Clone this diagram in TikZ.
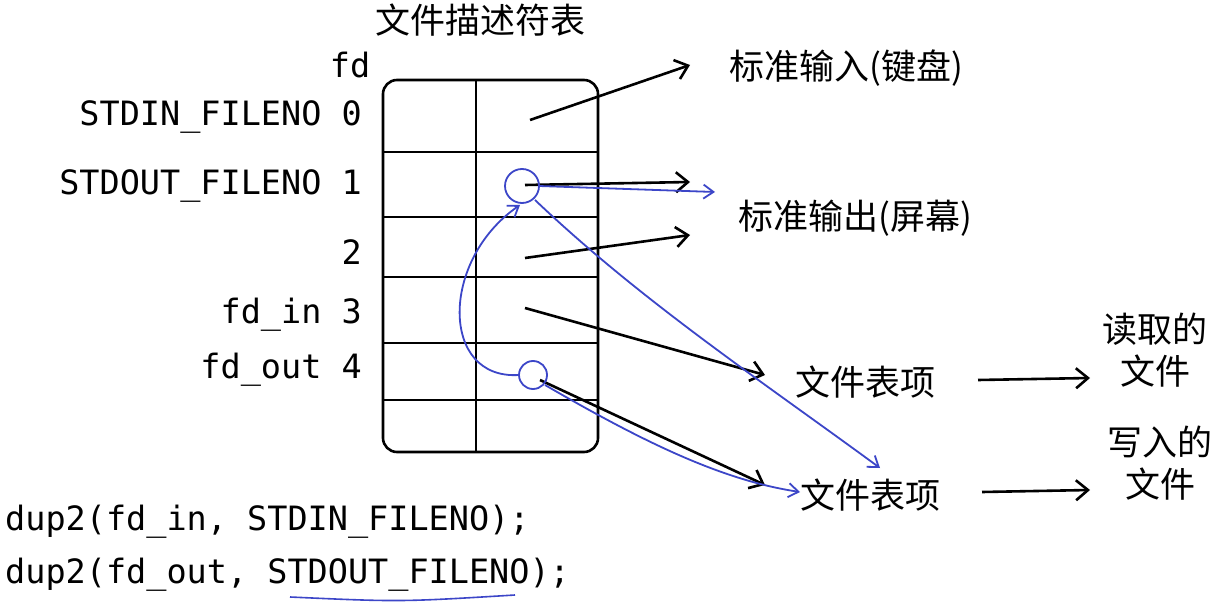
\documentclass[tikz,border=0pt]{standalone}
\usepackage{fontspec}
\setmainfont{DejaVu Sans}
\setmonofont{DejaVu Sans Mono}
\newfontfamily\cjk{Noto Sans CJK SC}
\usetikzlibrary{arrows.meta}
\definecolor{pen}{RGB}{60,70,200}
\begin{document}
\begin{tikzpicture}[x=1pt,y=-1pt,
  lbl/.style={font=\ttfamily\fontsize{33.5}{36}\selectfont, inner sep=0},
  zh/.style={font=\cjk\fontsize{35}{42}\selectfont, inner sep=0, align=center},
  blk/.style={line width=2.6pt, -{Straight Barb[length=12pt,width=20pt]}},
  blu/.style={line width=1.8pt, pen, -{Straight Barb[length=10pt,width=14pt]}},
  grid/.style={line width=2.6pt}]
\useasboundingbox[fill=white] (0,0) rectangle (1225,609);
% table
\draw[grid, rounded corners=14pt] (383,80) rectangle (598,452);
\draw[grid] (476,80) -- (476,452);
\foreach \y in {152,217,277,343,400} \draw[grid] (383,\y) -- (598,\y);
\node[zh] (title) at (480,20) {文件描述符表};
\node[lbl] (fd) at (350,65) {fd};
\node[lbl,anchor=east] (r0) at (362,117) {STDIN\_FILENO 0};
\node[lbl,anchor=east] (r1) at (362,186) {STDOUT\_FILENO 1};
\node[lbl,anchor=east] (r2) at (362,252) {2};
\node[lbl,anchor=east] (r3) at (362,315) {fd\_in 3};
\node[lbl,anchor=east] (r4) at (362,370) {fd\_out 4};
% targets
\node[zh] (in) at (846,68) {标准输入(键盘)};
\node[zh] (out) at (855,218) {标准输出(屏幕)};
\node[zh] (fe1) at (865,382) {文件表项};
\node[zh] (fe2) at (870,495) {文件表项};
\node[zh] (rf) at (1155,350) {读取的\\文件};
\node[zh] (wf) at (1160,463) {写入的\\文件};
\coordinate (c0) at (530,120);
\coordinate (c1) at (525,185);
\coordinate (c2) at (525,258);
\coordinate (c3) at (525,308);
\coordinate (c4) at (540,380);
\draw[blk] (c0) -- (690,65);
\draw[blk] (c1) -- (690,182);
\draw[blk] (c2) -- (690,235);
\draw[blk] (c3) -- (765,375);
\draw[blk] (c4) -- (765,485);
\draw[blk] (978,380) -- (1090,378);
\draw[blk] (982,492) -- (1090,490);
% blue annotations
\draw[pen, line width=1.8pt] (522,186) circle[radius=17];
\draw[pen, line width=1.8pt] (533,375) circle[radius=14];
\draw[blu] (539,186) -- (715,192);
\draw[blu] (519,375) .. controls (440,380) and (440,260) .. (520,205);
\draw[blu] (535,200) .. controls (640,300) and (760,380) .. (880,468);
\draw[blu] (545,385) .. controls (640,440) and (720,480) .. (800,492);
% code
\node[lbl,anchor=west] (code1) at (5,522) {dup2(fd\_in, STDIN\_FILENO);};
\node[lbl,anchor=west] (code2) at (5,575) {dup2(fd\_out, STDOUT\_FILENO);};
\draw[pen, line width=1.6pt] (290,597) .. controls (400,602) .. (515,595);
\end{tikzpicture}
\end{document}
